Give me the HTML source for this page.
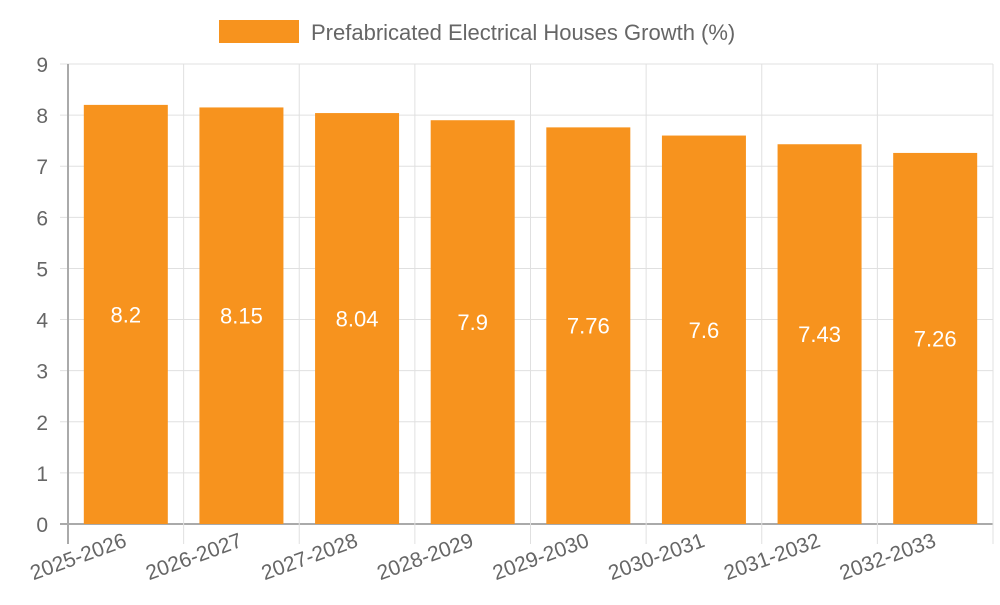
<!DOCTYPE html>
<html><head><meta charset="utf-8"><style>
body{margin:0;background:#fff;font-family:"Liberation Sans",sans-serif}
</style></head><body>
<svg id="c" width="1000" height="600" xmlns="http://www.w3.org/2000/svg" font-family="Liberation Sans, sans-serif"></svg>
<script>
const categories=["2025-2026","2026-2027","2027-2028","2028-2029","2029-2030","2030-2031","2031-2032","2032-2033"];
const values=[8.2,8.15,8.04,7.9,7.76,7.6,7.43,7.26];
const yTicks=[0,1,2,3,4,5,6,7,8,9];
const svg=document.getElementById('c');
const NS='http://www.w3.org/2000/svg';
const L=68,R=993,T=64,B=524,yMax=9;
const y=v=>B-(v/yMax)*(B-T);
const bw=(R-L)/categories.length;
const x=i=>L+i*bw;
function mk(t,a,p){const e=document.createElementNS(NS,t);for(const k in a)e.setAttribute(k,a[k]);(p||svg).appendChild(e);return e;}
// legend
const lg=mk('g',{});


mk('rect',{x:219,y:20,width:80,height:23,fill:'#f7931e'},lg);
const lt=mk('text',{x:311,y:40,'font-size':22,fill:'#666'},lg);lt.textContent='Prefabricated Electrical Houses Growth (%)';
// grid
yTicks.forEach(t=>{
 const g=mk('line',{x1:60,x2:R,y1:y(t),y2:y(t),stroke:t===0?'#aaa':'#e0e0e0','stroke-width':t===0?2:1});
 
 
 const tx=mk('text',{x:48,y:y(t)+8,'font-size':21,fill:'#666','text-anchor':'end'});
 
 
 tx.textContent=t;
});
for(let i=0;i<=categories.length;i++){
 const g=mk('line',{x1:x(i),x2:x(i),y1:T,y2:B+20,stroke:i===0?'#aaa':'#e0e0e0','stroke-width':i===0?2:1});
 
 
}
categories.forEach((c,i)=>{
 const cx=x(i)+bw/2;
 const r=mk('rect',{x:cx-42,y:y(values[i]),width:84,height:B-y(values[i]),fill:'#f7931e'});
 
 
 const v=mk('text',{x:cx,y:(y(values[i])+B)/2+8,'font-size':22,fill:'#fff','text-anchor':'middle'});
 
 
 v.textContent=values[i];
 const t=mk('text',{x:cx+2,y:B+22,'font-size':21,fill:'#666','text-anchor':'end',transform:`rotate(-20 ${cx+2} ${B+22})`});
 
 
 t.textContent=c;
});
</script>
</body></html>
